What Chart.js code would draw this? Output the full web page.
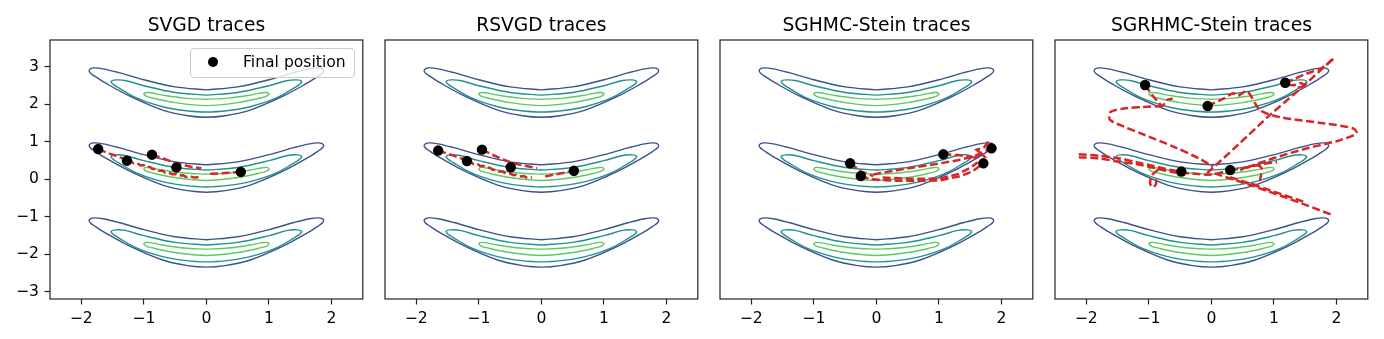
<!DOCTYPE html>
<html>
<head>
<meta charset="utf-8">
<script src="https://cdn.jsdelivr.net/npm/chart.js@4.4.1/dist/chart.umd.min.js"></script>
<style>
  body { margin: 0; background: #fff; }
  #wrap { position: relative; width: 1384px; height: 339px; }
  #wrap canvas { position: absolute; top: 0; }
  #legend {
    position: absolute; left: 190px; top: 48px; width: 165px; height: 30px;
    box-sizing: border-box; border: 1px solid #cccccc; border-radius: 4px;
    background: rgba(255, 255, 255, 0.8); font: 15.6px 'DejaVu Sans'; color: #000;
  }
  #legend .dot { position: absolute; left: 17px; top: 8px; width: 10px; height: 10px; border-radius: 50%; background: #000; }
  #legend .txt { position: absolute; left: 52px; top: 3px; line-height: 20px; white-space: nowrap; }
</style>
</head>
<body>
<div id="wrap">
  <canvas id="c0" width="368" height="339" style="left:0px"></canvas>
  <canvas id="c1" width="368" height="339" style="left:335px"></canvas>
  <canvas id="c2" width="368" height="339" style="left:670px"></canvas>
  <canvas id="c3" width="368" height="339" style="left:1005px"></canvas>
  <div id="legend"><span class="dot"></span><span class="txt">Final position</span></div>
</div>
<script>
const panelTitles = ['SVGD traces', 'RSVGD traces', 'SGHMC-Stein traces', 'SGRHMC-Stein traces'];
const xTicks = [-2, -1, 0, 1, 2];
const yTicks = [-3, -2, -1, 0, 1, 2, 3];

// contour outlines of one banana (centred on 0)
const contourOuter = [[0, 0.38], [0.50, 0.46], [1.00, 0.65], [1.40, 0.84], [1.65, 0.94], [1.80, 0.965], [1.87, 0.92],
  [1.86, 0.84], [1.78, 0.74], [1.60, 0.55], [1.20, 0.19], [0.70, -0.16], [0.30, -0.31], [0, -0.35], [-0.30, -0.31],
  [-0.70, -0.16], [-1.20, 0.19], [-1.60, 0.55], [-1.78, 0.74], [-1.86, 0.84], [-1.87, 0.92], [-1.80, 0.965],
  [-1.65, 0.94], [-1.40, 0.84], [-1.00, 0.65], [-0.50, 0.46], [0, 0.38]];
const contourMid = [[0, 0.24], [0.50, 0.31], [1.00, 0.49], [1.30, 0.63], [1.45, 0.645], [1.52, 0.61], [1.50, 0.54],
  [1.42, 0.45], [1.10, 0.15], [0.70, -0.07], [0.35, -0.17], [0, -0.21], [-0.35, -0.17], [-0.70, -0.07], [-1.10, 0.15],
  [-1.42, 0.45], [-1.50, 0.54], [-1.52, 0.61], [-1.45, 0.645], [-1.30, 0.63], [-1.00, 0.49], [-0.50, 0.31], [0, 0.24]];
const contourInner = [[0, 0.13], [0.35, 0.16], [0.70, 0.24], [0.93, 0.31], [1.00, 0.28], [0.97, 0.22], [0.88, 0.17],
  [0.50, 0.04], [0, -0.04], [-0.50, 0.04], [-0.88, 0.17], [-0.97, 0.22], [-1.00, 0.28], [-0.93, 0.31], [-0.70, 0.24],
  [-0.35, 0.16], [0, 0.13]];
const bananaOffsets = [2, 0, -2];
const contourColors = ['#3b528b', '#21918c', '#5ec962'];

// final particle positions per panel
const finalSVGD = [[-1.73, 0.80], [-1.27, 0.49], [-0.87, 0.65], [-0.48, 0.31], [0.55, 0.19]];
const finalRSVGD = [[-1.65, 0.76], [-1.19, 0.48], [-0.95, 0.785], [-0.49, 0.315], [0.52, 0.22]];
const finalSGHMC = [[-0.42, 0.42], [-0.25, 0.08], [1.07, 0.66], [1.84, 0.82], [1.71, 0.42]];
const finalSGRHMC = [[-1.06, 2.51], [-0.06, 1.95], [1.18, 2.57], [-0.48, 0.20], [0.30, 0.24]];

// particle traces per panel
const tracesSVGD = [
  [[-1.73, 0.80], [-1.55, 0.68], [-1.38, 0.58], [-1.27, 0.52]],
  [[-1.27, 0.49], [-1.2, 0.47], [-1.17, 0.42], [-1.1, 0.42], [-1.06, 0.37], [-1.0, 0.37], [-0.96, 0.32], [-0.9, 0.32],
   [-0.86, 0.27], [-0.8, 0.27], [-0.76, 0.22], [-0.7, 0.22], [-0.66, 0.17], [-0.6, 0.17], [-0.55, 0.13], [-0.48, 0.13],
   [-0.44, 0.09], [-0.37, 0.10], [-0.33, 0.06], [-0.25, 0.07], [-0.2, 0.04], [-0.12, 0.05]],
  [[-0.87, 0.65], [-0.66, 0.53], [-0.48, 0.42], [-0.25, 0.33], [-0.08, 0.29]],
  [[0.06, 0.14], [0.30, 0.16], [0.55, 0.19]]
];
const tracesRSVGD = [
  [[-1.65, 0.76], [-1.45, 0.65], [-1.25, 0.53]],
  [[-1.19, 0.48], [-1.12, 0.45], [-1.09, 0.40], [-1.02, 0.40], [-0.98, 0.35], [-0.92, 0.35], [-0.88, 0.30], [-0.82, 0.30],
   [-0.78, 0.25], [-0.72, 0.25], [-0.68, 0.20], [-0.62, 0.20], [-0.57, 0.15], [-0.5, 0.15], [-0.46, 0.11], [-0.4, 0.11],
   [-0.35, 0.07], [-0.28, 0.08], [-0.24, 0.04], [-0.15, 0.04]],
  [[-0.95, 0.785], [-0.66, 0.555], [-0.45, 0.42], [-0.07, 0.29]],
  [[0.06, 0.07], [0.30, 0.15], [0.52, 0.22]]
];
const tracesSGHMC = [
  [[-0.42, 0.42], [-0.32, 0.30], [-0.25, 0.20], [-0.15, 0.15], [-0.05, 0.08]],
  [[-0.25, 0.08], [-0.1, 0.0], [0.2, -0.04], [0.6, -0.05], [1.0, -0.04], [1.35, 0.08], [1.55, 0.22], [1.65, 0.35], [1.71, 0.42]],
  [[0.1, 0.04], [0.5, 0.01], [1.0, 0.01], [1.3, 0.13], [1.5, 0.30], [1.62, 0.45]],
  [[-0.05, 0.12], [0.2, 0.2], [0.6, 0.31], [1.02, 0.42], [1.3, 0.5], [1.55, 0.6], [1.84, 0.82]],
  [[1.07, 0.66], [1.3, 0.64], [1.55, 0.58]],
  [[1.55, 0.55], [1.68, 0.68], [1.6, 0.78], [1.72, 0.84], [1.78, 0.98], [1.8, 1.06]],
  [[1.65, 0.72], [1.74, 0.58], [1.68, 0.46]]
];
const tracesSGRHMC = [
  [[-1.06, 2.51], [-0.95, 2.25], [-0.85, 2.05], [-0.78, 1.95], [-0.72, 2.1], [-0.62, 2.15]],
  [[-0.78, 1.95], [-1.1, 1.92], [-1.4, 1.88], [-1.62, 1.78], [-1.62, 1.58], [-1.4, 1.4], [-1.1, 1.2], [-0.6, 0.86],
   [-0.2, 0.55], [0.03, 0.33]],
  [[-0.06, 1.95], [0.2, 2.15], [0.35, 2.29], [0.42, 2.22], [0.57, 2.34], [0.78, 1.84], [1.1, 1.65], [1.79, 1.49],
   [2.27, 1.35], [2.32, 1.22], [2.06, 1.04], [1.53, 0.82], [0.99, 0.555], [0.46, 0.243]],
  [[-0.07, 0.155], [0.45, 0.95], [0.93, 1.70], [1.45, 2.45], [1.95, 3.22]],
  [[1.95, 3.2], [1.75, 2.95], [1.5, 2.8], [1.3, 2.65], [1.18, 2.57], [1.3, 2.5], [1.42, 2.56], [1.5, 2.48], [1.38, 2.44]],
  [[-2.12, 0.66], [-1.8, 0.62], [-1.46, 0.55], [-1.2, 0.45], [-0.93, 0.35], [-0.7, 0.26], [-0.48, 0.2]],
  [[-2.12, 0.58], [-1.8, 0.55], [-1.5, 0.47], [-1.2, 0.40], [-0.93, 0.3], [-0.6, 0.18], [-0.3, 0.15], [0.0, 0.12], [0.3, 0.24]],
  [[-0.85, 0.25], [-0.95, 0.1], [-0.98, -0.12], [-0.93, -0.22], [-0.88, -0.1], [-0.9, 0.05]],
  [[0.05, 0.15], [0.6, -0.15], [1.2, -0.5], [1.95, -0.97]],
  [[0.3, 0.05], [0.9, -0.28], [1.5, -0.62]],
  [[0.72, 0.38], [0.8, 0.3], [0.78, 0.0], [0.75, -0.15], [0.6, -0.12]],
  [[0.3, 0.24], [0.55, 0.30], [0.8, 0.40], [1.05, 0.45]]
];

const panelFinals = [finalSVGD, finalRSVGD, finalSGHMC, finalSGRHMC];
const panelTraces = [tracesSVGD, tracesRSVGD, tracesSGHMC, tracesSGRHMC];

Chart.defaults.font.family = "'DejaVu Sans', sans-serif";
Chart.defaults.color = '#000';

const toPts = (arr, dy = 0) => arr.map(([x, y]) => ({ x: x, y: y + dy }));
const fmtTick = v => (v < 0 ? '\u2212' + Math.abs(v) : String(v));

// draws the full box round the axes, like matplotlib spines
const framePlugin = {
  id: 'frame',
  afterDatasetsDraw(chart) {
    const { ctx, chartArea: a } = chart;
    ctx.save();
    ctx.strokeStyle = '#222';
    ctx.lineWidth = 1.2;
    ctx.strokeRect(a.left, a.top, a.right - a.left, a.bottom - a.top);
    ctx.restore();
  }
};

function buildDatasets(p) {
  const sets = [];
  [contourOuter, contourMid, contourInner].forEach((c, ci) => {
    bananaOffsets.forEach(off => {
      sets.push({
        data: toPts(c, off), showLine: true, borderColor: contourColors[ci], borderWidth: 1.4,
        pointRadius: 0, tension: 0.35, order: 3
      });
    });
  });
  panelTraces[p].forEach(t => {
    sets.push({
      data: toPts(t), showLine: true, borderColor: '#d62728', borderWidth: 2.5, borderDash: [8, 3.5],
      pointRadius: 0, tension: p === 3 ? 0.3 : 0, order: 2
    });
  });
  sets.push({
    data: toPts(panelFinals[p]), showLine: false, pointRadius: 5.2, pointBackgroundColor: '#000',
    pointBorderColor: '#000', pointBorderWidth: 0, order: 1
  });
  return sets;
}

panelTitles.forEach((title, p) => {
  const first = p === 0;
  new Chart(document.getElementById('c' + p), {
    type: 'scatter',
    data: { datasets: buildDatasets(p) },
    plugins: [framePlugin],
    options: {
      responsive: false,
      animation: false,
      events: [],
      layout: { padding: { left: 0, right: 5, top: 0, bottom: 0 } },
      plugins: {
        legend: { display: false },
        tooltip: { enabled: false },
        title: {
          display: true, text: title, color: '#000', fullSize: false,
          font: { size: 18.7, weight: 'normal' },
          padding: { top: 15, bottom: 2.56 }
        }
      },
      scales: {
        x: {
          type: 'linear', min: -2.5, max: 2.5,
          afterBuildTicks: s => { s.ticks = xTicks.map(v => ({ value: v })); },
          afterFit: s => { s.height = 40; },
          ticks: { callback: fmtTick, font: { size: 15.6 }, color: '#000', padding: 5, maxRotation: 0 },
          grid: { drawOnChartArea: false, drawTicks: true, tickLength: 5.5, tickWidth: 1.2, tickColor: '#222' },
          border: { display: false }
        },
        y: {
          type: 'linear', min: -3.2, max: 3.71, display: first,
          afterBuildTicks: s => { s.ticks = yTicks.map(v => ({ value: v })); },
          afterFit: s => { s.width = 50; },
          ticks: { callback: fmtTick, font: { size: 15.6 }, color: '#000', padding: 5.5 },
          grid: { drawOnChartArea: false, drawTicks: true, tickLength: 5.5, tickWidth: 1.2, tickColor: '#222' },
          border: { display: false }
        }
      }
    }
  });
});
</script>
</body>
</html>
